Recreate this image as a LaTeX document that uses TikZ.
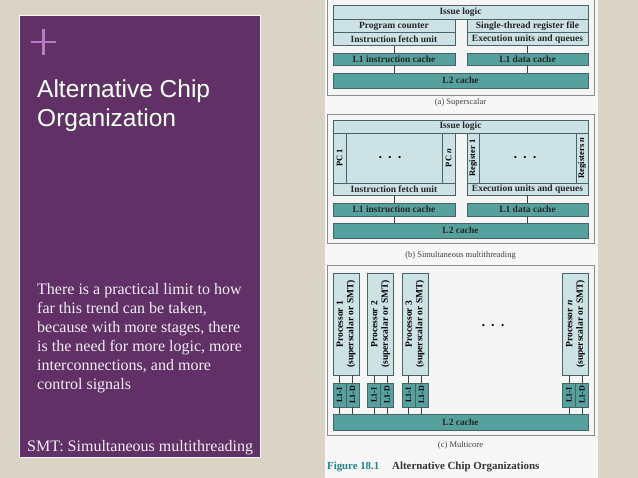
\documentclass[tikz,border=0pt]{standalone}
\usepackage{fontspec}
\setmainfont{Liberation Serif}
\newfontfamily\titlefont{Liberation Sans}
\usetikzlibrary{calc,positioning}
\definecolor{paper}{RGB}{218,212,198}
\definecolor{plum}{RGB}{96,48,102}
\definecolor{plus}{RGB}{183,124,196}
\definecolor{lightbox}{RGB}{205,226,228}
\definecolor{cachebox}{RGB}{86,160,158}
\definecolor{boxline}{RGB}{70,100,102}
\definecolor{figteal}{RGB}{30,130,135}
\tikzset{
  lbox/.style={draw=boxline, fill=lightbox, line width=0.7pt, inner sep=0pt,
    font=\bfseries\fontsize{9.5}{10}\selectfont, text=black!85},
  cbox/.style={lbox, fill=cachebox},
  frame/.style={draw=black!45, fill=white!96!black, line width=0.8pt},
  wire/.style={draw=black!75, line width=0.7pt},
  caption/.style={font=\fontsize{8.5}{10}\selectfont, text=black!75},
  dots/.style={font=\fontsize{9}{9}\selectfont},
  vtext/.style={rotate=90, font=\bfseries\fontsize{8.5}{9.5}\selectfont, align=center, inner sep=0pt},
  slide/.style={anchor=base west, align=left, inner sep=0pt},
  }
\newcommand{\dotrow}{\textbullet\hspace{6.5pt}\textbullet\hspace{6.5pt}\textbullet}

\begin{document}
\begin{tikzpicture}[x=1pt, y=-1pt]
  \useasboundingbox (0,0) rectangle (638,478);
  \fill[paper] (0,0) rectangle (638,478);

  % left panel
  \filldraw[fill=plum, draw=white!85!paper, line width=1pt] (19,16) rectangle (260,458);
  \coordinate (plus) at (43.5,42);
  \draw[plus, line width=2.6pt] ($(plus)+(-12.5,0)$) -- ($(plus)+(12.5,0)$)
                                ($(plus)+(0,-13)$) -- ($(plus)+(0,13)$);
  \node[slide, text=black!70, opacity=0.6,
        font=\titlefont\fontsize{24.5}{29}\selectfont] at (38,128)
        {Alternative Chip\\Organization};
  \node[slide, text=white,
        font=\titlefont\fontsize{24.5}{29}\selectfont] (title) at (37,127)
        {Alternative Chip\\Organization};
  \node[slide, text=white!92!plum,
        font=\fontsize{16}{19}\selectfont] (body) at (37,390)
        {There is a practical limit to how\\far this trend can be taken,\\because with more stages, there\\is the need for more logic, more\\interconnections, and more\\control signals};
  \node[slide, text=white!92!plum, font=\fontsize{16}{19}\selectfont] (smt) at (27,452)
        {SMT: Simultaneous multithreading};

  % figure sheet
  \fill[white!97!black] (325,0) rectangle (598,478);

  % (a) superscalar
  \draw[frame] (327.5,-1) rectangle (594.5,95);
  \node[lbox, minimum width=255, minimum height=14] (issA) at (460.5,12) {Issue logic};
  \node[lbox, minimum width=122, minimum height=13] (pc) at (394,26) {Program counter};
  \node[lbox, minimum width=122, minimum height=13] (ifuA) at (394,39) {Instruction fetch unit};
  \node[lbox, minimum width=121, minimum height=13] (regA) at (527.5,26) {Single-thread register file};
  \node[lbox, minimum width=121, minimum height=13] (exeA) at (527.5,39) {Execution units and queues};
  \node[cbox, minimum width=122, minimum height=12] (l1iA) at (394,59) {L1 instruction cache};
  \node[cbox, minimum width=121, minimum height=12] (l1dA) at (527.5,59) {L1 data cache};
  \node[cbox, minimum width=255, minimum height=15] (l2A) at (460.5,80.5) {L2 cache};
  \draw[wire] (ifuA) -- (l1iA) (exeA) -- (l1dA);
  \draw[wire] (l1iA.south) -- (l1iA.south |- l2A.north);
  \draw[wire] (l1dA.south) -- (l1dA.south |- l2A.north);
  \node[caption] (capA) at (460.5,102) {(a) Superscalar};

  % (b) simultaneous multithreading
  \draw[frame] (327.5,114.5) rectangle (594.5,243);
  \node[lbox, minimum width=255, minimum height=13] (issB) at (460.5,126.5) {Issue logic};
  \node[lbox, minimum width=122, minimum height=50] (pcs) at (394,158) {};
  \node[lbox, minimum width=13, minimum height=50] (pc1) at (339.5,158) {};
  \node[vtext] at (pc1) {PC 1};
  \node[lbox, minimum width=13, minimum height=50] (pcn) at (448.5,158) {};
  \node[vtext] at (pcn) {PC \textit{n}};
  \node[dots] (dotB1) at (390,158) {\dotrow};
  \node[lbox, minimum width=122, minimum height=12] (ifuB) at (394,189) {Instruction fetch unit};
  \node[lbox, minimum width=121, minimum height=50] (regs) at (527.5,158) {};
  \node[lbox, minimum width=12, minimum height=50] (reg1) at (473,158) {};
  \node[vtext] at (reg1) {Register 1};
  \node[lbox, minimum width=12, minimum height=50] (regn) at (582,158) {};
  \node[vtext] at (regn) {Registers \textit{n}};
  \node[dots] (dotB2) at (525,158) {\dotrow};
  \node[lbox, minimum width=121, minimum height=12] (exeB) at (527.5,189) {Execution units and queues};
  \node[cbox, minimum width=122, minimum height=13] (l1iB) at (394,209.5) {L1 instruction cache};
  \node[cbox, minimum width=121, minimum height=13] (l1dB) at (527.5,209.5) {L1 data cache};
  \node[cbox, minimum width=255, minimum height=15] (l2B) at (460.5,230.5) {L2 cache};
  \draw[wire] (ifuB) -- (l1iB) (exeB) -- (l1dB);
  \draw[wire] (l1iB.south) -- (l1iB.south |- l2B.north);
  \draw[wire] (l1dB.south) -- (l1dB.south |- l2B.north);
  \node[caption] (capB) at (460.5,255) {(b) Simultaneous multithreading};

  % (c) multicore
  \draw[frame] (327.5,265) rectangle (594.5,435);
  \node[cbox, minimum width=255, minimum height=16] (l2C) at (460.5,422) {L2 cache};
  \foreach \px/\lbl [count=\i] in {346/1, 380.5/2, 415/3, 575.5/\textit{n}} {
    \node[lbox, minimum width=26, minimum height=102] (proc\i) at (\px,324) {};
    \node[vtext, font=\bfseries\fontsize{9.5}{10.5}\selectfont] at (proc\i) {Processor \lbl\\(superscalar or SMT)};
    \node[cbox, minimum width=13, minimum height=24] (l1i\i) at (\px-6.5,395) {};
    \node[vtext, font=\bfseries\fontsize{8}{8}\selectfont] at (l1i\i) {L1-I};
    \node[cbox, minimum width=13, minimum height=24] (l1d\i) at (\px+6.5,395) {};
    \node[vtext, font=\bfseries\fontsize{8}{8}\selectfont] at (l1d\i) {L1-D};
    \draw[wire] (l1i\i.north |- proc\i.south) -- (l1i\i.north);
    \draw[wire] (l1d\i.north |- proc\i.south) -- (l1d\i.north);
    \draw[wire] (l1i\i.south) -- (l1i\i.south |- l2C.north);
    \draw[wire] (l1d\i.south) -- (l1d\i.south |- l2C.north);
  }
  \node[dots] (dotC) at (493,326) {\dotrow};
  \node[caption] (capC) at (460.5,445) {(c) Multicore};
  \node[slide, text=figteal, font=\bfseries\fontsize{10.8}{12}\selectfont] (fig) at (327,470) {Figure 18.1};
  \node[slide, text=black!80, font=\bfseries\fontsize{10.9}{12}\selectfont] (figt) at (392,470) {Alternative Chip Organizations};
\end{tikzpicture}
\end{document}
